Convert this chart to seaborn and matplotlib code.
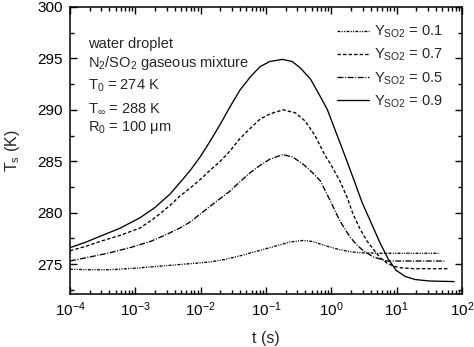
import numpy as np
import pandas as pd
import seaborn as sns
import matplotlib
matplotlib.use("Agg")
import matplotlib.pyplot as plt
from matplotlib.ticker import LogLocator, LogFormatterMathtext, MultipleLocator, NullFormatter

# Droplet surface temperature Ts (K) versus log10 of time t (s), one pair per SO2 mass fraction
logt_01 = [-4.0, -3.69, -3.39, -3.00, -2.62, -2.24, -1.86, -1.63, -1.40, -1.17, -0.94, -0.63,
           -0.43, -0.29, -0.17, -0.02, 0.13, 0.29, 0.44, 0.75, 1.64]
ts_01 = [274.5, 274.45, 274.45, 274.6, 274.8, 275.0, 275.2, 275.45, 275.8, 276.2, 276.6, 277.15,
         277.3, 277.2, 276.95, 276.65, 276.4, 276.2, 276.1, 276.05, 276.05]

logt_07 = [-4.0, -3.77, -3.54, -3.23, -2.93, -2.70, -2.47, -2.32, -2.16, -2.01, -1.86, -1.70,
           -1.55, -1.40, -1.24, -1.09, -0.94, -0.74, -0.55, -0.40, -0.25, -0.10, -0.02, 0.13,
           0.24, 0.33, 0.44, 0.55, 0.66, 0.75, 0.85, 0.95, 1.05, 1.25, 1.79]
ts_07 = [276.3, 276.7, 277.2, 277.8, 278.5, 279.5, 280.7, 281.6, 282.4, 283.2, 284.1, 285.0,
         286.0, 287.2, 288.2, 289.1, 289.6, 290.0, 289.7, 288.9, 287.5, 285.6, 284.8, 283.1,
         281.5, 279.9, 278.4, 277.2, 276.3, 275.6, 275.1, 274.8, 274.65, 274.55, 274.55]

logt_05 = [-4.0, -3.69, -3.39, -3.08, -2.77, -2.55, -2.32, -2.16, -1.86, -1.55, -1.40, -1.24,
           -1.09, -0.94, -0.74, -0.59, -0.43, -0.29, -0.17, -0.02, 0.13, 0.29, 0.40, 0.49,
           0.64, 0.85, 1.73]
ts_05 = [275.3, 275.7, 276.1, 276.6, 277.2, 277.8, 278.5, 279.1, 280.6, 282.1, 283.0, 283.9,
         284.6, 285.2, 285.65, 285.4, 284.7, 283.9, 283.1, 281.2, 279.2, 277.6, 276.8, 276.3,
         275.7, 275.3, 275.3]

logt_09 = [-4.0, -3.77, -3.54, -3.23, -2.93, -2.70, -2.47, -2.28, -2.16, -2.01, -1.86, -1.70,
           -1.55, -1.40, -1.24, -1.09, -0.94, -0.75, -0.60, -0.48, -0.32, -0.17, -0.06, 0.06,
           0.21, 0.35, 0.47, 0.61, 0.75, 0.87, 0.99, 1.13, 1.28, 1.51, 1.88]
ts_09 = [276.6, 277.1, 277.7, 278.5, 279.5, 280.5, 281.8, 283.2, 284.1, 285.4, 286.9, 288.6,
         290.3, 291.9, 293.2, 294.2, 294.7, 294.9, 294.7, 294.1, 293.0, 291.3, 290.0, 288.0,
         285.5, 283.1, 281.0, 279.0, 277.0, 275.5, 274.4, 273.8, 273.5, 273.35, 273.3]

series_labels = [r"Y$_{\mathrm{SO2}}$ = 0.1", r"Y$_{\mathrm{SO2}}$ = 0.7",
                 r"Y$_{\mathrm{SO2}}$ = 0.5", r"Y$_{\mathrm{SO2}}$ = 0.9"]
info_lines = ["water droplet", r"N$_2$/SO$_2$ gaseous mixture", r"T$_0$ = 274 K",
              r"T$_{\infty}$ = 288 K", r"R$_0$ = 100 $\mu$m"]

sns.set_style("ticks")
plt.rcParams["font.family"] = ["Liberation Sans", "DejaVu Sans"]
plt.rcParams["mathtext.fontset"] = "custom"
plt.rcParams["mathtext.rm"] = "Liberation Sans"
plt.rcParams["mathtext.it"] = "Liberation Sans:italic"
plt.rcParams["mathtext.default"] = "regular"

fig = plt.figure(figsize=(4.74, 3.47), dpi=100)
ax = fig.add_axes([0.1477, 0.153, 0.827, 0.827])

styles = [(0, (2.2, 1.0, 0.8, 1.0, 0.8, 1.0)), (0, (2.6, 1.6)), (0, (4.5, 1.2, 0.8, 1.2)), "-"]
data = [(logt_01, ts_01), (logt_07, ts_07), (logt_05, ts_05), (logt_09, ts_09)]
for (lt, ts), lab, ls in zip(data, series_labels, styles):
    df = pd.DataFrame({"t": 10.0 ** np.array(lt), "T": ts})
    sns.lineplot(data=df, x="t", y="T", ax=ax, color="black", lw=0.95,
                 linestyle=ls, label=lab, estimator=None, sort=False)

ax.set_xscale("log")
ax.set_xlim(1e-4, 1e2)
ax.set_ylim(272.1, 300)
ax.xaxis.set_major_locator(LogLocator(base=10, numticks=10))
ax.xaxis.set_major_formatter(LogFormatterMathtext())
ax.xaxis.set_minor_locator(LogLocator(base=10, subs=np.arange(2, 10), numticks=10))
ax.xaxis.set_minor_formatter(NullFormatter())
ax.yaxis.set_major_locator(MultipleLocator(5))
ax.yaxis.set_minor_locator(MultipleLocator(2.5))

ax.tick_params(which="both", direction="in", top=True, right=True, width=1,
               labelsize=11, colors="black", pad=5)
ax.tick_params(which="major", length=5)
ax.tick_params(which="minor", length=3)
for sp in ax.spines.values():
    sp.set_linewidth(1.1)
    sp.set_color("black")

ax.set_xlabel("t (s)", fontsize=11.5, labelpad=8)
ax.set_ylabel(r"T$_s$ (K)", fontsize=11.5, labelpad=11)

# Case description, one line per entry (baselines in axes fraction)
ys = [0.856, 0.792, 0.713, 0.633, 0.569]
for txt, y in zip(info_lines, ys):
    ax.text(0.046, y, txt, transform=ax.transAxes, fontsize=10.5,
            va="baseline", ha="left")

ax.legend(loc="upper right", frameon=False, fontsize=10.5, handlelength=2.2,
          handletextpad=0.35, labelspacing=0.46, borderaxespad=0.0,
          bbox_to_anchor=(0.967, 0.961))

fig.savefig("out.png", dpi=100)
